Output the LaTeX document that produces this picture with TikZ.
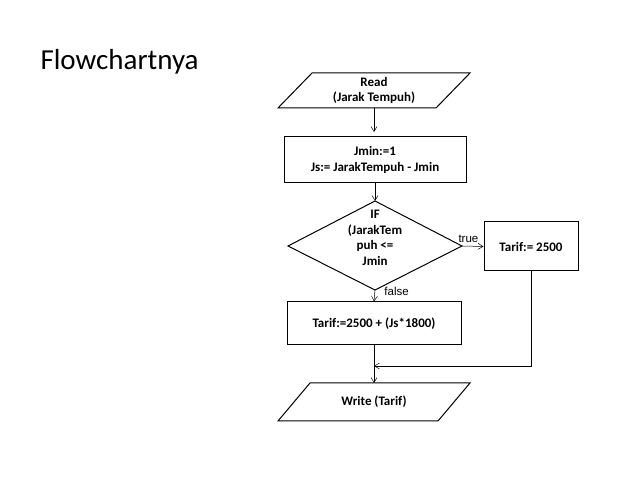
\documentclass[tikz,border=0pt]{standalone}
\usepackage{fontspec}
\setmainfont{Carlito}
\newfontfamily\arialf{Liberation Sans}
\usetikzlibrary{arrows.meta}
\begin{document}
\begin{tikzpicture}[x=1pt,y=-1pt,
  box/.style={draw,line width=1pt},
  txt/.style={font=\fontsize{13}{15.5}\selectfont\bfseries,align=center},
  conn/.style={-{Straight Barb[length=5pt,width=6pt]},line width=0.5pt},
  lbl/.style={font=\arialf\fontsize{11.5}{13}\selectfont}]
\useasboundingbox (0,0) rectangle (638,478);
\node[anchor=west,font=\fontsize{29}{34}\selectfont] (title) at (37,62) {Flowchartnya};
% Read
\draw[box] (278,108) -- (312,73) -- (470,73) -- (436,108) -- cycle;
\node[txt] (read) at (374,90.5) {Read\\(Jarak Tempuh)};
\coordinate (readb) at (374,108);
% Jmin
\node[box,txt,minimum width=182pt,minimum height=46pt,inner sep=0pt] (jmin) at (375,160) {Jmin:=1\\Js:= JarakTempuh - Jmin};
% diamond
\draw[box] (288,246) -- (375,201) -- (462,246) -- (375,290) -- cycle;
\coordinate (dt) at (375,201); \coordinate (db) at (375,290); \coordinate (dr) at (462,246);
\node[txt] (if) at (375,238) {IF\\(JarakTem\\puh <=\\Jmin};
% Tarif 2500
\node[box,txt,minimum width=94pt,minimum height=49pt,inner sep=0pt] (t1) at (531,246.5) {Tarif:= 2500};
% Tarif formula
\node[box,txt,minimum width=174pt,minimum height=43pt,inner sep=0pt] (t2) at (374,323.5) {Tarif:=2500 + (Js*1800)};
% Write
\draw[box] (278,421) -- (310,383) -- (470,383) -- (438,421) -- cycle;
\node[txt] (wr) at (374,402) {Write (Tarif)};
\coordinate (wt) at (374,383);
\coordinate (m) at (374,366);
% connectors
\draw[conn] (readb) -- ++(0,24);
\draw[conn] (jmin.south) -- (dt);
\draw[conn] (dr) -- (t1.west) node[lbl,pos=0.3,above=0pt] (tl) {true};
\draw[conn] (db) -- (t2.north) node[lbl,right=6pt,pos=0.1] (fl) {false};
\draw[conn] (t2.south) -- (wt);
\draw[conn] (t1.south) |- (m);
\end{tikzpicture}
\end{document}
